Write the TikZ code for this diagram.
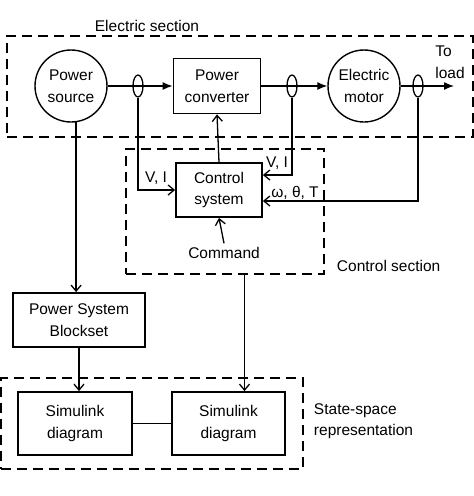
\documentclass[tikz,border=0pt]{standalone}
\usepackage{fontspec}
\setmainfont{Liberation Sans}
\usetikzlibrary{arrows.meta,shapes.geometric}
\begin{document}
\begin{tikzpicture}[x=1pt,y=-1pt,line width=1.3pt,font=\fontsize{15.5}{21.5}\selectfont]
  \tikzstyle{rond}=[circle, draw=black, line width=1.4pt, align=center, minimum size=72pt, inner sep=0pt]
  \tikzstyle{bloc}=[rectangle, draw=black, line width=1.8pt, align=center, inner sep=0pt]
  \tikzstyle{capteur}=[ellipse, draw=black, minimum width=10pt, minimum height=22pt, inner sep=0pt]
  \tikzstyle{zone}=[rectangle, draw=black, line width=1.8pt, dash pattern=on 10pt off 6pt, inner sep=0pt]
  \tikzstyle{flux}=[-{Latex[length=10pt,width=8pt]}]
  \tikzstyle{signal}=[-{Straight Barb[length=6pt,width=10pt]}]
  \useasboundingbox (0,0) rectangle (474,496);
  % sections
  \node[zone, minimum width=466pt, minimum height=101pt] (elec) at (240,86.5) {};
  \node[zone, minimum width=198pt, minimum height=125pt] (ctrlsec) at (225,211.5) {};
  \node[zone, minimum width=302pt, minimum height=91pt] (state) at (152,423.5) {};
  \node (elecl) at (147,26) {Electric section};
  \node[anchor=west] (ctrll) at (333,266) {Control section};
  \node[anchor=west, align=left] (statel) at (310,421) {State-space\\representation};
  % electric part
  \node[rond] (src) at (71,86) {Power\\source};
  \node[bloc, minimum width=87pt, minimum height=55pt] (conv) at (217,86) {Power\\converter};
  \node[rond] (mot) at (364,86) {Electric\\motor};
  \coordinate (load) at (454,86);
  \node[align=left] (loadl) at (450,62) {To\\load};
  \draw[flux] (src.east) -- (conv.west);
  \draw[flux] (conv.east) -- (mot.west);
  \draw[flux] (mot.east) -- (load);
  \foreach \n/\x in {s1/138,s2/292,s3/418} {
    \node[capteur] (\n) at (\x,86) {};
  }
  % control part
  \node[bloc, minimum width=86pt, minimum height=54pt] (ctrl) at (219,190) {Control\\system};
  \node (cmd) at (224,253) {Command};
  \draw[signal] (s1.south) |- (ctrl.west);
  \draw[signal] (s2.south) |- ([yshift=15pt]ctrl.east);
  \draw[signal] (s3.south) |- ([yshift=-11pt]ctrl.east);
  \draw[signal] (ctrl.north) -- (conv.south);
  \draw[signal] (cmd.north) -- (ctrl.south);
  \node (vi1) at (156,178) {V, I};
  \node (vi2) at (277,163) {V, I};
  \node (wtt) at (295,193) {ω, θ, T};
  % simulation part
  \node[bloc, minimum width=132pt, minimum height=54pt] (psb) at (79,320) {Power System\\Blockset};
  \node[bloc, minimum width=114pt, minimum height=63pt] (sim1) at (75,423.5) {Simulink\\diagram};
  \node[bloc, minimum width=113pt, minimum height=63pt] (sim2) at (228.5,423.5) {Simulink\\diagram};
  \coordinate (sim2in) at ([xshift=16pt]sim2.north);
  \draw[signal] (src.-82) -- (src.-82 |- psb.north);
  \draw[signal] (psb.south) -- (psb.south |- sim1.north);
  \draw[signal] (ctrlsec.south -| sim2in) -- (sim2in);
  \draw (sim1.east) -- (sim2.west);
\end{tikzpicture}
\end{document}
